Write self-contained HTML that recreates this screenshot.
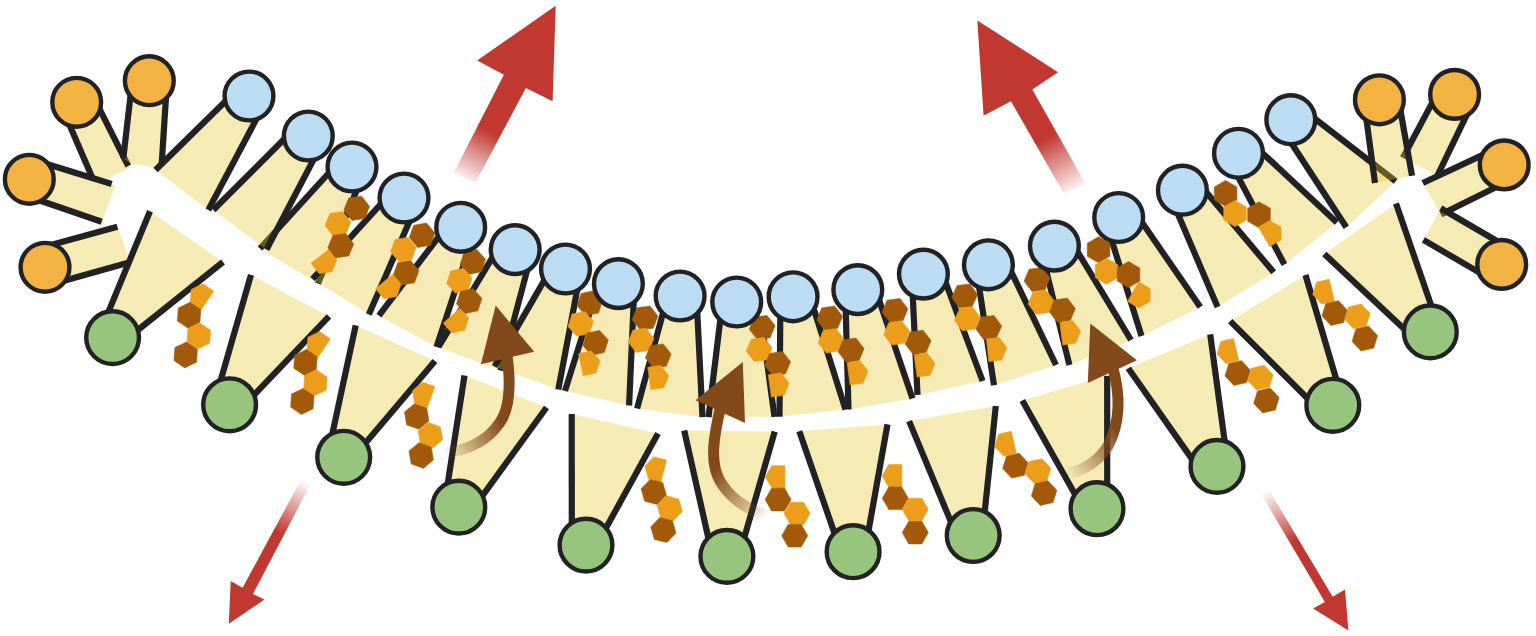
<!DOCTYPE html>
<html><head><meta charset="utf-8"><style>html,body{margin:0;padding:0;background:#fff;overflow:hidden}svg{display:block}</style></head>
<body>
<svg width="1536" height="636" viewBox="0 0 1536 636">
<defs>
<linearGradient id="ra1" gradientUnits="userSpaceOnUse" x1="463" y1="183" x2="489" y2="131"><stop offset="0" stop-color="#C13830" stop-opacity="0"/><stop offset="1" stop-color="#C13830"/></linearGradient>
<linearGradient id="ra2" gradientUnits="userSpaceOnUse" x1="1077" y1="193" x2="1046" y2="138"><stop offset="0" stop-color="#C13830" stop-opacity="0"/><stop offset="1" stop-color="#C13830"/></linearGradient>
<linearGradient id="ra3" gradientUnits="userSpaceOnUse" x1="306" y1="481" x2="280" y2="533"><stop offset="0" stop-color="#C13830" stop-opacity="0"/><stop offset="1" stop-color="#C13830"/></linearGradient>
<linearGradient id="ra4" gradientUnits="userSpaceOnUse" x1="1265" y1="491" x2="1293" y2="542"><stop offset="0" stop-color="#C13830" stop-opacity="0"/><stop offset="1" stop-color="#C13830"/></linearGradient>
<linearGradient id="ba1" gradientUnits="userSpaceOnUse" x1="444" y1="453" x2="500" y2="420"><stop offset="0" stop-color="#824A1B" stop-opacity="0"/><stop offset="1" stop-color="#824A1B"/></linearGradient>
<linearGradient id="ba2" gradientUnits="userSpaceOnUse" x1="768" y1="516" x2="715" y2="470"><stop offset="0" stop-color="#824A1B" stop-opacity="0"/><stop offset="1" stop-color="#824A1B"/></linearGradient>
<linearGradient id="ba3" gradientUnits="userSpaceOnUse" x1="1067" y1="474" x2="1115" y2="430"><stop offset="0" stop-color="#824A1B" stop-opacity="0"/><stop offset="1" stop-color="#824A1B"/></linearGradient>
</defs>
<rect width="1536" height="636" fill="#fff"/>
<g stroke="#222224" stroke-width="6.2" stroke-linecap="butt">
<g><polygon fill="#E4C425" fill-opacity="0.34" stroke="none" points="70,126 93.3,180 111,177 130.8,167.2 128.3,166 100,110"/><line x1="67.6" y1="120.5" x2="93.3" y2="180"/><line x1="97.3" y1="104.6" x2="128.3" y2="166"/></g>
<g><polygon fill="#E4C425" fill-opacity="0.34" stroke="none" points="130,100 123.3,158.3 130.5,163.5 153,167.3 161.7,164 165.7,101.7"/><line x1="130.7" y1="94" x2="123.3" y2="158.3"/><line x1="166.1" y1="95.7" x2="161.7" y2="164"/></g>
<g><polygon fill="#E4C425" fill-opacity="0.34" stroke="none" points="53.3,166 111.7,184 115.5,185.5 101.7,221.7 43.3,201.7"/><line x1="47.6" y1="164.2" x2="111.7" y2="184"/><line x1="37.6" y1="199.8" x2="101.7" y2="221.7"/></g>
<g><polygon fill="#E4C425" fill-opacity="0.34" stroke="none" points="56.7,243.3 117.4,226.7 130.5,262.5 128.1,262.8 60,281.8"/><line x1="50.9" y1="244.9" x2="117.4" y2="226.7"/><line x1="54.2" y1="283.4" x2="128.1" y2="262.8"/></g>
<g><polygon fill="#E4C425" fill-opacity="0.34" stroke="none" points="225,101.7 155.5,170  208.3,210 255,121.7"/><line x1="229.3" y1="97.5" x2="155.5" y2="170"/><line x1="257.8" y1="116.4" x2="208.3" y2="210"/></g>
<g><polygon fill="#E4C425" fill-opacity="0.34" stroke="none" points="328,173.9 260,248.5  318,283.5 355.7,192.8"/><line x1="332" y1="169.5" x2="260" y2="248.5"/><line x1="358" y1="187.3" x2="318" y2="283.5"/></g>
<g><polygon fill="#E4C425" fill-opacity="0.34" stroke="none" points="283.3,140 213.3,210  266.5,249.5 313.3,160"/><line x1="287.5" y1="135.8" x2="213.3" y2="210"/><line x1="316.1" y1="154.7" x2="266.5" y2="249.5"/></g>
<g><polygon fill="#E4C425" fill-opacity="0.34" stroke="none" points="380.9,204.1 312.5,279  368.8,314.5 407.8,225.2"/><line x1="384.9" y1="199.7" x2="312.5" y2="279"/><line x1="410.2" y1="219.7" x2="368.8" y2="314.5"/></g>
<g><polygon fill="#E4C425" fill-opacity="0.34" stroke="none" points="438,237.7 378.9,315.7  436.5,347 468,251.6"/><line x1="441.6" y1="232.9" x2="378.9" y2="315.7"/><line x1="469.9" y1="245.9" x2="436.5" y2="347"/></g>
<g><polygon fill="#E4C425" fill-opacity="0.34" stroke="none" points="490,261.5 438.5,347  500.5,370.5 526.5,272.8"/><line x1="493.1" y1="256.4" x2="438.5" y2="347"/><line x1="528" y1="267" x2="500.5" y2="370.5"/></g>
<g><polygon fill="#E4C425" fill-opacity="0.34" stroke="none" points="542.9,282.8 494.5,366.5  558.3,389.5 576.9,291.6"/><line x1="545.9" y1="277.6" x2="494.5" y2="366.5"/><line x1="578" y1="285.7" x2="558.3" y2="389.5"/></g>
<g><polygon fill="#E4C425" fill-opacity="0.34" stroke="none" points="594.5,296.7 565,390.9  629.1,405.5 633.5,305.5"/><line x1="596.3" y1="291" x2="565" y2="390.9"/><line x1="633.8" y1="299.5" x2="629.1" y2="405.5"/></g>
<g><polygon fill="#E4C425" fill-opacity="0.34" stroke="none" points="662.7,314.1 637.1,408.5  702.5,417.2 697.5,316.8"/><line x1="664.3" y1="308.3" x2="637.1" y2="408.5"/><line x1="697.2" y1="310.8" x2="702.5" y2="417.2"/></g>
<g><polygon fill="#E4C425" fill-opacity="0.34" stroke="none" points="720.2,320.8 708.5,417.2  774.5,416.8 761.6,322.2"/><line x1="720.9" y1="314.8" x2="708.5" y2="417.2"/><line x1="760.8" y1="316.3" x2="774.5" y2="416.8"/></g>
<g><polygon fill="#E4C425" fill-opacity="0.34" stroke="none" points="780.3,320.8 779.5,416.8  845.5,409.5 815,312.8"/><line x1="780.3" y1="314.8" x2="779.5" y2="416.8"/><line x1="813.2" y1="307.1" x2="845.5" y2="409.5"/></g>
<g><polygon fill="#E4C425" fill-opacity="0.34" stroke="none" points="845.8,312.8 848.5,409.5  912.5,398.5 880.7,304.9"/><line x1="845.6" y1="306.8" x2="848.5" y2="409.5"/><line x1="878.8" y1="299.2" x2="912.5" y2="398.5"/></g>
<g><polygon fill="#E4C425" fill-opacity="0.34" stroke="none" points="912.8,296.9 917.5,395  982.6,381 947.5,287.5"/><line x1="912.5" y1="290.9" x2="917.5" y2="395"/><line x1="945.4" y1="281.9" x2="982.6" y2="381"/></g>
<g><polygon fill="#E4C425" fill-opacity="0.34" stroke="none" points="979.6,290.2 994,385.3  1056,365 1013,275.5"/><line x1="978.7" y1="284.3" x2="994" y2="385.3"/><line x1="1010.4" y1="270.1" x2="1056" y2="365"/></g>
<g><polygon fill="#E4C425" fill-opacity="0.34" stroke="none" points="1046.4,271.5 1069.4,365  1131,340 1079.8,255.4"/><line x1="1045" y1="265.7" x2="1069.4" y2="365"/><line x1="1076.7" y1="250.3" x2="1131" y2="340"/></g>
<g><polygon fill="#E4C425" fill-opacity="0.34" stroke="none" points="1112.1,241.6 1141.5,336  1200.3,307 1144.1,225.5"/><line x1="1110.3" y1="235.9" x2="1141.5" y2="336"/><line x1="1140.7" y1="220.6" x2="1200.3" y2="307"/></g>
<g><polygon fill="#E4C425" fill-opacity="0.34" stroke="none" points="1178.9,216.2 1217.6,307  1273.7,272.3 1209.6,196.1"/><line x1="1176.5" y1="210.7" x2="1217.6" y2="307"/><line x1="1205.7" y1="191.5" x2="1273.7" y2="272.3"/></g>
<g><polygon fill="#E4C425" fill-opacity="0.34" stroke="none" points="1239,178.7 1284.4,264.5  1336.9,222.5 1265.7,156"/><line x1="1236.2" y1="173.4" x2="1284.4" y2="264.5"/><line x1="1261.3" y1="151.9" x2="1336.9" y2="222.5"/></g>
<g><polygon fill="#E4C425" fill-opacity="0.34" stroke="none" points="1292.6,145 1346.3,227.2  1395.7,181.2 1316.1,119.7"/><line x1="1289.3" y1="140" x2="1346.3" y2="227.2"/><line x1="1311.4" y1="116" x2="1395.7" y2="181.2"/></g>
<g><polygon fill="#E4C425" fill-opacity="0.34" stroke="none" points="1431.9,103.4 1402.9,157.7  1437.3,175.8 1464.4,119.7"/><line x1="1434.7" y1="98.1" x2="1402.9" y2="157.7"/><line x1="1467" y1="114.3" x2="1437.3" y2="175.8"/></g>
<g><polygon fill="#E4C425" fill-opacity="0.34" stroke="none" points="1366.7,121.5 1375,183  1412,175.8 1401.1,114.3"/><line x1="1365.9" y1="115.6" x2="1375" y2="183"/><line x1="1400.1" y1="108.4" x2="1412" y2="175.8"/></g>
<g><polygon fill="#E4C425" fill-opacity="0.34" stroke="none" points="1480.7,155.9 1422.8,183  1440.9,214.6 1497,186.6"/><line x1="1486.1" y1="153.4" x2="1422.8" y2="183"/><line x1="1502.4" y1="183.9" x2="1440.9" y2="214.6"/></g>
<g><polygon fill="#E4C425" fill-opacity="0.34" stroke="none" points="1497.3,241.3 1440.7,208.3  1423.4,239.8 1476.9,271.2"/><line x1="1502.5" y1="244.3" x2="1440.7" y2="208.3"/><line x1="1482.1" y1="274.2" x2="1423.4" y2="239.8"/></g>
<g><polygon fill="#E4C425" fill-opacity="0.34" stroke="none" points="109.4,309.6 150,211.2  223,262 140.1,328.3"/><line x1="107.1" y1="315.1" x2="150" y2="211.2"/><line x1="135.4" y1="332" x2="223" y2="262"/></g>
<g><polygon fill="#E4C425" fill-opacity="0.34" stroke="none" points="221.5,377.5 251,274.8  329,316.4 255.5,393.5"/><line x1="219.8" y1="383.3" x2="251" y2="274.8"/><line x1="251.4" y1="397.8" x2="329" y2="316.4"/></g>
<g><polygon fill="#E4C425" fill-opacity="0.34" stroke="none" points="333,431 355.7,325.4  435,361 367.7,440.3"/><line x1="331.7" y1="436.9" x2="355.7" y2="325.4"/><line x1="363.8" y1="444.9" x2="435" y2="361"/></g>
<g><polygon fill="#E4C425" fill-opacity="0.34" stroke="none" points="447.9,482.3 464.5,375.5  546.5,407.5 482.6,495.5"/><line x1="447" y1="488.2" x2="464.5" y2="375.5"/><line x1="479.1" y1="500.4" x2="546.5" y2="407.5"/></g>
<g><polygon fill="#E4C425" fill-opacity="0.34" stroke="none" points="571.8,523.6 571.7,414  658,433.5 607.5,525.3"/><line x1="571.8" y1="529.6" x2="571.7" y2="414"/><line x1="604.6" y1="530.6" x2="658" y2="433.5"/></g>
<g><polygon fill="#E4C425" fill-opacity="0.34" stroke="none" points="707.8,535.4 684.2,430.5  774.7,431.6 745,535.4"/><line x1="709.1" y1="541.3" x2="684.2" y2="430.5"/><line x1="743.3" y1="541.2" x2="774.7" y2="431.6"/></g>
<g><polygon fill="#E4C425" fill-opacity="0.34" stroke="none" points="834.3,532.9 799.3,431.2  887.5,424.4 868.7,530"/><line x1="836.3" y1="538.6" x2="799.3" y2="431.2"/><line x1="867.6" y1="535.9" x2="887.5" y2="424.4"/></g>
<g><polygon fill="#E4C425" fill-opacity="0.34" stroke="none" points="950.6,521.1 909.1,421.1  995.8,406 984.5,513.6"/><line x1="952.9" y1="526.6" x2="909.1" y2="421.1"/><line x1="983.9" y1="519.6" x2="995.8" y2="406"/></g>
<g><polygon fill="#E4C425" fill-opacity="0.34" stroke="none" points="1073.2,491 1022.3,400.4  1107.2,375.8 1107.2,482.6"/><line x1="1076.1" y1="496.2" x2="1022.3" y2="400.4"/><line x1="1107.2" y1="488.6" x2="1107.2" y2="375.8"/></g>
<g><polygon fill="#E4C425" fill-opacity="0.34" stroke="none" points="1190.6,457 1128.3,368.3  1210.2,334.3 1224.5,440"/><line x1="1194" y1="461.9" x2="1128.3" y2="368.3"/><line x1="1225.3" y1="445.9" x2="1210.2" y2="334.3"/></g>
<g><polygon fill="#E4C425" fill-opacity="0.34" stroke="none" points="1305.7,396.6 1230.2,321.1  1305.5,275 1335.8,377.7"/><line x1="1309.9" y1="400.8" x2="1230.2" y2="321.1"/><line x1="1337.5" y1="383.5" x2="1305.5" y2="275"/></g>
<g><polygon fill="#E4C425" fill-opacity="0.34" stroke="none" points="1403,327.8 1324.3,253.9  1396,203.6 1431.3,305.8"/><line x1="1407.4" y1="331.9" x2="1324.3" y2="253.9"/><line x1="1433.3" y1="311.5" x2="1396" y2="203.6"/></g>
</g>
<g><polygon points="369.6,206.5 364.7,218.5 351.8,220.4 343.8,210.1 348.7,198.1 361.6,196.2" fill="#A25A0A" stroke="#A25A0A" stroke-width="0.6"/><polygon points="350.8,221.9 345.9,233.9 333,235.8 325,225.5 329.9,213.5 342.8,211.6" fill="#EC9D1A" stroke="#EC9D1A" stroke-width="0.6"/><polygon points="353.7,243.9 348.8,255.9 335.9,257.8 327.9,247.5 332.8,235.5 345.7,233.6" fill="#A25A0A" stroke="#A25A0A" stroke-width="0.6"/><polygon points="336.9,259.7 332,271.7 319.1,273.6 311.1,263.3 328.9,249.4" fill="#EC9D1A" stroke="#EC9D1A" stroke-width="0.6"/><polygon points="434.9,233 430.5,245.3 417.7,247.5 409.3,237.6 413.7,225.3 426.5,223.1" fill="#A25A0A" stroke="#A25A0A" stroke-width="0.6"/><polygon points="416.2,247.3 411.8,259.6 399,261.8 390.6,251.9 395,239.6 407.8,237.4" fill="#EC9D1A" stroke="#EC9D1A" stroke-width="0.6"/><polygon points="418.9,270.4 414.5,282.7 401.7,284.9 393.3,275 397.7,262.7 410.5,260.5" fill="#A25A0A" stroke="#A25A0A" stroke-width="0.6"/><polygon points="401.1,284.2 396.7,296.5 383.9,298.7 375.5,288.8 392.7,274.3" fill="#EC9D1A" stroke="#EC9D1A" stroke-width="0.6"/><polygon points="485.5,259.3 481.5,271.7 468.8,274.4 460.1,264.7 464.1,252.3 476.8,249.6" fill="#A25A0A" stroke="#A25A0A" stroke-width="0.6"/><polygon points="472.1,278 468.1,290.4 455.4,293.1 446.7,283.4 450.7,271 463.4,268.3" fill="#EC9D1A" stroke="#EC9D1A" stroke-width="0.6"/><polygon points="481.9,298.4 477.9,310.8 465.2,313.5 456.5,303.8 460.5,291.4 473.2,288.7" fill="#A25A0A" stroke="#A25A0A" stroke-width="0.6"/><polygon points="468.6,317.9 464.6,330.3 451.9,333 443.2,323.3 459.9,308.2" fill="#EC9D1A" stroke="#EC9D1A" stroke-width="0.6"/><polygon points="602.5,300.5 598.5,312.9 585.8,315.6 577.1,305.9 581.1,293.5 593.8,290.8" fill="#A25A0A" stroke="#A25A0A" stroke-width="0.6"/><polygon points="593.4,321.1 589.4,333.5 576.7,336.2 568,326.5 572,314.1 584.7,311.4" fill="#EC9D1A" stroke="#EC9D1A" stroke-width="0.6"/><polygon points="608.3,340.1 604.3,352.5 591.6,355.2 582.9,345.5 586.9,333.1 599.6,330.4" fill="#A25A0A" stroke="#A25A0A" stroke-width="0.6"/><polygon points="600,360.7 596,373.1 583.3,375.8 578.6,353.7 591.3,351" fill="#EC9D1A" stroke="#EC9D1A" stroke-width="0.6"/><polygon points="658,316.2 653.1,328.2 640.2,330.1 632.2,319.8 637.1,307.8 650,305.9" fill="#A25A0A" stroke="#A25A0A" stroke-width="0.6"/><polygon points="653.9,338.5 649,350.5 636.1,352.4 628.1,342.1 633,330.1 645.9,328.2" fill="#EC9D1A" stroke="#EC9D1A" stroke-width="0.6"/><polygon points="671.2,354.2 666.3,366.2 653.4,368.1 645.4,357.8 650.3,345.8 663.2,343.9" fill="#A25A0A" stroke="#A25A0A" stroke-width="0.6"/><polygon points="668.7,375.7 663.8,387.7 650.9,389.6 647.8,367.3 660.7,365.4" fill="#EC9D1A" stroke="#EC9D1A" stroke-width="0.6"/><polygon points="775.1,325.7 770.2,337.7 757.3,339.6 749.3,329.3 754.2,317.3 767.1,315.4" fill="#A25A0A" stroke="#A25A0A" stroke-width="0.6"/><polygon points="772.1,347.7 767.2,359.7 754.3,361.6 746.3,351.3 751.2,339.3 764.1,337.4" fill="#EC9D1A" stroke="#EC9D1A" stroke-width="0.6"/><polygon points="790.5,361.8 785.6,373.8 772.7,375.7 764.7,365.4 769.6,353.4 782.5,351.5" fill="#A25A0A" stroke="#A25A0A" stroke-width="0.6"/><polygon points="789.2,383.2 784.3,395.2 771.4,397.1 768.3,374.8 781.2,372.9" fill="#EC9D1A" stroke="#EC9D1A" stroke-width="0.6"/><polygon points="842.6,316.3 837.7,328.3 824.8,330.2 816.8,319.9 821.7,307.9 834.6,306" fill="#A25A0A" stroke="#A25A0A" stroke-width="0.6"/><polygon points="844,339.1 839.1,351.1 826.2,353 818.2,342.7 823.1,330.7 836,328.8" fill="#EC9D1A" stroke="#EC9D1A" stroke-width="0.6"/><polygon points="864,348.4 859.1,360.4 846.2,362.3 838.2,352 843.1,340 856,338.1" fill="#A25A0A" stroke="#A25A0A" stroke-width="0.6"/><polygon points="868,371.1 863.1,383.1 850.2,385 847.1,362.7 860,360.8" fill="#EC9D1A" stroke="#EC9D1A" stroke-width="0.6"/><polygon points="907.9,308.7 903,320.7 890.1,322.6 882.1,312.3 887,300.3 899.9,298.4" fill="#A25A0A" stroke="#A25A0A" stroke-width="0.6"/><polygon points="909.6,331.1 904.7,343.1 891.8,345 883.8,334.7 888.7,322.7 901.6,320.8" fill="#EC9D1A" stroke="#EC9D1A" stroke-width="0.6"/><polygon points="931,340.5 926.1,352.5 913.2,354.4 905.2,344.1 910.1,332.1 923,330.2" fill="#A25A0A" stroke="#A25A0A" stroke-width="0.6"/><polygon points="935,363.2 930.1,375.2 917.2,377.1 914.1,354.8 927,352.9" fill="#EC9D1A" stroke="#EC9D1A" stroke-width="0.6"/><polygon points="977.6,294.6 972.3,306.5 959.4,307.9 951.8,297.4 957.1,285.5 970,284.1" fill="#A25A0A" stroke="#A25A0A" stroke-width="0.6"/><polygon points="980.3,317.4 975,329.3 962.1,330.7 954.5,320.2 959.8,308.3 972.7,306.9" fill="#EC9D1A" stroke="#EC9D1A" stroke-width="0.6"/><polygon points="1001.7,326.1 996.4,338 983.5,339.4 975.9,328.9 981.2,317 994.1,315.6" fill="#A25A0A" stroke="#A25A0A" stroke-width="0.6"/><polygon points="1007,348.1 1001.7,360 988.8,361.4 986.5,339 999.4,337.6" fill="#EC9D1A" stroke="#EC9D1A" stroke-width="0.6"/><polygon points="1049.9,277.7 1045,289.7 1032.1,291.6 1024.1,281.3 1029,269.3 1041.9,267.4" fill="#A25A0A" stroke="#A25A0A" stroke-width="0.6"/><polygon points="1053.9,300.4 1049,312.4 1036.1,314.3 1028.1,304 1033,292 1045.9,290.1" fill="#EC9D1A" stroke="#EC9D1A" stroke-width="0.6"/><polygon points="1075.3,308.4 1070.4,320.4 1057.5,322.3 1049.5,312 1054.4,300 1067.3,298.1" fill="#A25A0A" stroke="#A25A0A" stroke-width="0.6"/><polygon points="1080.7,331.1 1075.8,343.1 1062.9,345 1059.8,322.7 1072.7,320.8" fill="#EC9D1A" stroke="#EC9D1A" stroke-width="0.6"/><polygon points="1109.9,256.3 1098.6,262.8 1087.3,256.3 1087.3,243.3 1098.6,236.8 1109.9,243.3" fill="#A25A0A" stroke="#A25A0A" stroke-width="0.6"/><polygon points="1117.9,277.7 1106.6,284.2 1095.3,277.7 1095.3,264.7 1106.6,258.2 1117.9,264.7" fill="#EC9D1A" stroke="#EC9D1A" stroke-width="0.6"/><polygon points="1139.8,281 1128.5,287.5 1117.2,281 1117.2,268 1128.5,261.5 1139.8,268" fill="#A25A0A" stroke="#A25A0A" stroke-width="0.6"/><polygon points="1150.1,301.5 1138.8,308 1127.5,301.5 1138.8,282 1150.1,288.5" fill="#EC9D1A" stroke="#EC9D1A" stroke-width="0.6"/><polygon points="1236.9,199.9 1225.6,206.4 1214.3,199.9 1214.3,186.9 1225.6,180.4 1236.9,186.9" fill="#A25A0A" stroke="#A25A0A" stroke-width="0.6"/><polygon points="1246.3,220 1235,226.5 1223.7,220 1223.7,207 1235,200.5 1246.3,207" fill="#EC9D1A" stroke="#EC9D1A" stroke-width="0.6"/><polygon points="1270.3,221.3 1259,227.8 1247.7,221.3 1247.7,208.3 1259,201.8 1270.3,208.3" fill="#A25A0A" stroke="#A25A0A" stroke-width="0.6"/><polygon points="1281,240 1269.7,246.5 1258.4,227 1269.7,220.5 1281,227" fill="#EC9D1A" stroke="#EC9D1A" stroke-width="0.6"/><polygon points="201.1,309.8 190.3,302.5 191.2,289.5 202.9,283.8 213.7,291.1" fill="#EC9D1A" stroke="#EC9D1A" stroke-width="0.6"/><polygon points="199.9,322.6 188.2,328.3 177.4,321 178.3,308 190,302.3 200.8,309.6" fill="#A25A0A" stroke="#A25A0A" stroke-width="0.6"/><polygon points="209.6,343.2 197.9,348.9 187.1,341.6 188,328.6 199.7,322.9 210.5,330.2" fill="#EC9D1A" stroke="#EC9D1A" stroke-width="0.6"/><polygon points="196.5,362.2 184.8,367.9 174,360.6 174.9,347.6 186.6,341.9 197.4,349.2" fill="#A25A0A" stroke="#A25A0A" stroke-width="0.6"/><polygon points="317.8,357.6 307,350.3 307.9,337.3 319.6,331.6 330.4,338.9" fill="#EC9D1A" stroke="#EC9D1A" stroke-width="0.6"/><polygon points="316.3,369.8 304.6,375.5 293.8,368.2 294.7,355.2 306.4,349.5 317.2,356.8" fill="#A25A0A" stroke="#A25A0A" stroke-width="0.6"/><polygon points="326.2,390 314.5,395.7 303.7,388.4 304.6,375.4 316.3,369.7 327.1,377" fill="#EC9D1A" stroke="#EC9D1A" stroke-width="0.6"/><polygon points="313.1,408.7 301.4,414.4 290.6,407.1 291.5,394.1 303.2,388.4 314,395.7" fill="#A25A0A" stroke="#A25A0A" stroke-width="0.6"/><polygon points="427.1,407.8 414.8,403.4 412.6,390.6 422.5,382.2 434.8,386.6" fill="#EC9D1A" stroke="#EC9D1A" stroke-width="0.6"/><polygon points="428.9,420.9 419,429.3 406.7,424.9 404.5,412.1 414.4,403.7 426.7,408.1" fill="#A25A0A" stroke="#A25A0A" stroke-width="0.6"/><polygon points="442.6,439.7 432.7,448.1 420.4,443.7 418.2,430.9 428.1,422.5 440.4,426.9" fill="#EC9D1A" stroke="#EC9D1A" stroke-width="0.6"/><polygon points="433.4,459.9 423.5,468.3 411.2,463.9 409,451.1 418.9,442.7 431.2,447.1" fill="#A25A0A" stroke="#A25A0A" stroke-width="0.6"/><polygon points="661,481.9 648.4,478.8 644.8,466.3 653.8,456.9 666.4,460" fill="#EC9D1A" stroke="#EC9D1A" stroke-width="0.6"/><polygon points="666.3,495 657.3,504.4 644.7,501.3 641.1,488.8 650.1,479.4 662.7,482.5" fill="#A25A0A" stroke="#A25A0A" stroke-width="0.6"/><polygon points="682.3,511.4 673.3,520.8 660.7,517.7 657.1,505.2 666.1,495.8 678.7,498.9" fill="#EC9D1A" stroke="#EC9D1A" stroke-width="0.6"/><polygon points="676,533.1 667,542.5 654.4,539.4 650.8,526.9 659.8,517.5 672.4,520.6" fill="#A25A0A" stroke="#A25A0A" stroke-width="0.6"/><polygon points="784.9,488.3 771.9,488.3 765.4,477 771.9,465.7 784.9,465.7" fill="#EC9D1A" stroke="#EC9D1A" stroke-width="0.6"/><polygon points="791.1,499.6 784.6,510.9 771.6,510.9 765.1,499.6 771.6,488.3 784.6,488.3" fill="#A25A0A" stroke="#A25A0A" stroke-width="0.6"/><polygon points="810.1,513.5 803.6,524.8 790.6,524.8 784.1,513.5 790.6,502.2 803.6,502.2" fill="#EC9D1A" stroke="#EC9D1A" stroke-width="0.6"/><polygon points="807.7,535.7 801.2,547 788.2,547 781.7,535.7 788.2,524.4 801.2,524.4" fill="#A25A0A" stroke="#A25A0A" stroke-width="0.6"/><polygon points="901.8,487.2 888.8,487.2 882.3,475.9 888.8,464.6 901.8,464.6" fill="#EC9D1A" stroke="#EC9D1A" stroke-width="0.6"/><polygon points="908.3,498.3 901.8,509.6 888.8,509.6 882.3,498.3 888.8,487 901.8,487" fill="#A25A0A" stroke="#A25A0A" stroke-width="0.6"/><polygon points="928.3,509.5 921.8,520.8 908.8,520.8 902.3,509.5 908.8,498.2 921.8,498.2" fill="#EC9D1A" stroke="#EC9D1A" stroke-width="0.6"/><polygon points="928.3,532.6 921.8,543.9 908.8,543.9 902.3,532.6 908.8,521.3 921.8,521.3" fill="#A25A0A" stroke="#A25A0A" stroke-width="0.6"/><polygon points="1016.3,453.2 1003.6,456.1 994.7,446.6 998.5,434.2 1011.2,431.3" fill="#EC9D1A" stroke="#EC9D1A" stroke-width="0.6"/><polygon points="1028.1,462.8 1024.3,475.2 1011.6,478.1 1002.7,468.6 1006.5,456.2 1019.2,453.3" fill="#A25A0A" stroke="#A25A0A" stroke-width="0.6"/><polygon points="1050.8,468.2 1047,480.6 1034.3,483.5 1025.4,474 1029.2,461.6 1041.9,458.7" fill="#EC9D1A" stroke="#EC9D1A" stroke-width="0.6"/><polygon points="1056.8,490.2 1053,502.6 1040.3,505.5 1031.4,496 1035.2,483.6 1047.9,480.7" fill="#A25A0A" stroke="#A25A0A" stroke-width="0.6"/><polygon points="1238.6,360.5 1225.9,363.4 1217,353.9 1220.8,341.5 1233.5,338.6" fill="#EC9D1A" stroke="#EC9D1A" stroke-width="0.6"/><polygon points="1250.4,370.2 1246.6,382.6 1233.9,385.5 1225,376 1228.8,363.6 1241.5,360.7" fill="#A25A0A" stroke="#A25A0A" stroke-width="0.6"/><polygon points="1273.1,374.8 1269.3,387.2 1256.6,390.1 1247.7,380.6 1251.5,368.2 1264.2,365.3" fill="#EC9D1A" stroke="#EC9D1A" stroke-width="0.6"/><polygon points="1279.1,397.6 1275.3,410 1262.6,412.9 1253.7,403.4 1257.5,391 1270.2,388.1" fill="#A25A0A" stroke="#A25A0A" stroke-width="0.6"/><polygon points="1334.3,301.2 1321.6,304.1 1312.7,294.6 1316.5,282.2 1329.2,279.3" fill="#EC9D1A" stroke="#EC9D1A" stroke-width="0.6"/><polygon points="1347.4,310.2 1343.6,322.6 1330.9,325.5 1322,316 1325.8,303.6 1338.5,300.7" fill="#A25A0A" stroke="#A25A0A" stroke-width="0.6"/><polygon points="1370.1,313.5 1366.3,325.9 1353.6,328.8 1344.7,319.3 1348.5,306.9 1361.2,304" fill="#EC9D1A" stroke="#EC9D1A" stroke-width="0.6"/><polygon points="1377.5,335.6 1373.7,348 1361,350.9 1352.1,341.4 1355.9,329 1368.6,326.1" fill="#A25A0A" stroke="#A25A0A" stroke-width="0.6"/></g>
<g stroke="#222224" stroke-width="4.4"><circle cx="76.7" cy="102.3" r="24.4" fill="#F2B342"/><circle cx="149.3" cy="80.7" r="24.4" fill="#F2B342"/><circle cx="29.3" cy="179.3" r="24.4" fill="#F2B342"/><circle cx="45" cy="267.3" r="24.4" fill="#F2B342"/><circle cx="249" cy="96" r="24.4" fill="#BBDCF3"/><circle cx="308.3" cy="136" r="24.4" fill="#BBDCF3"/><circle cx="352" cy="167" r="24.4" fill="#BBDCF3"/><circle cx="404" cy="198" r="24.4" fill="#BBDCF3"/><circle cx="460.7" cy="227.3" r="24.4" fill="#BBDCF3"/><circle cx="515.2" cy="249.6" r="24.4" fill="#BBDCF3"/><circle cx="565.5" cy="269" r="24.4" fill="#BBDCF3"/><circle cx="618.4" cy="283.6" r="24.4" fill="#BBDCF3"/><circle cx="680.1" cy="296" r="24.4" fill="#BBDCF3"/><circle cx="736.7" cy="302" r="24.4" fill="#BBDCF3"/><circle cx="793.1" cy="296.8" r="24.4" fill="#BBDCF3"/><circle cx="857.8" cy="289.6" r="24.4" fill="#BBDCF3"/><circle cx="923.4" cy="274.1" r="24.4" fill="#BBDCF3"/><circle cx="988.4" cy="264.8" r="24.4" fill="#BBDCF3"/><circle cx="1054.4" cy="246.1" r="24.4" fill="#BBDCF3"/><circle cx="1118.7" cy="217.5" r="24.4" fill="#BBDCF3"/><circle cx="1182.4" cy="190.2" r="24.4" fill="#BBDCF3"/><circle cx="1238.5" cy="153.3" r="24.4" fill="#BBDCF3"/><circle cx="1290.8" cy="119.7" r="24.4" fill="#BBDCF3"/><circle cx="1379.4" cy="99.8" r="24.4" fill="#F2B342"/><circle cx="1454.6" cy="94.4" r="24.4" fill="#F2B342"/><circle cx="1504.2" cy="164.9" r="24.4" fill="#F2B342"/><circle cx="1501.7" cy="264.4" r="24.4" fill="#F2B342"/><circle cx="112.6" cy="337.6" r="26.4" fill="#97C57E"/><circle cx="229.6" cy="404.8" r="26.4" fill="#97C57E"/><circle cx="343.7" cy="457.3" r="26.4" fill="#97C57E"/><circle cx="458.8" cy="507.1" r="26.4" fill="#97C57E"/><circle cx="586" cy="545.1" r="26.4" fill="#97C57E"/><circle cx="726.9" cy="556.4" r="26.4" fill="#97C57E"/><circle cx="853.1" cy="551.7" r="26.4" fill="#97C57E"/><circle cx="973.2" cy="535.5" r="26.4" fill="#97C57E"/><circle cx="1097" cy="508.7" r="26.4" fill="#97C57E"/><circle cx="1217" cy="466.4" r="26.4" fill="#97C57E"/><circle cx="1332.8" cy="405.3" r="26.4" fill="#97C57E"/><circle cx="1430.3" cy="331.9" r="26.4" fill="#97C57E"/></g>
<path d="M506.5,352 C511.5,385 509,410 499.5,423 C488,440 470,450 444,453" fill="none" stroke="url(#ba1)" stroke-width="11"/>
<polygon points="495.7,305.6 480.9,364.2 534.2,351.7" fill="#824A1B"/>
<path d="M721,405 C714,435 709,462 720,481 C731,500 748,510 768,516" fill="none" stroke="url(#ba2)" stroke-width="11"/>
<polygon points="742.8,361.9 695.6,400.3 745,423" fill="#824A1B"/>
<path d="M1112,365 C1121,395 1121,421 1108,446 C1098,462 1085,470 1067,474" fill="none" stroke="url(#ba3)" stroke-width="11"/>
<polygon points="1090.3,323.5 1087.8,383 1136.9,360.3" fill="#824A1B"/>
<polygon points="453.6,172.9 503.9,74.8 477.2,60.4 555.7,5.7 552.6,101.2 525.9,88 475.6,182.3" fill="url(#ra1)"/>
<polygon points="1085.7,183.9 1032.3,89.6 1058.1,72.3 977.3,20.4 983.6,115.7 1010.9,101.2 1063.7,193.3" fill="url(#ra2)"/>
<polygon points="301.2,479.4 242.6,587.7 230.7,581.1 228.8,623.7 264.5,599.6 252.9,594.1 310.9,483.5" fill="url(#ra3)"/>
<polygon points="1268.7,489.6 1332.7,596.7 1345,589.6 1348.4,630.6 1313.1,608.4 1324.9,601.9 1260.9,493.5" fill="url(#ra4)"/>
</svg>
</body></html>
